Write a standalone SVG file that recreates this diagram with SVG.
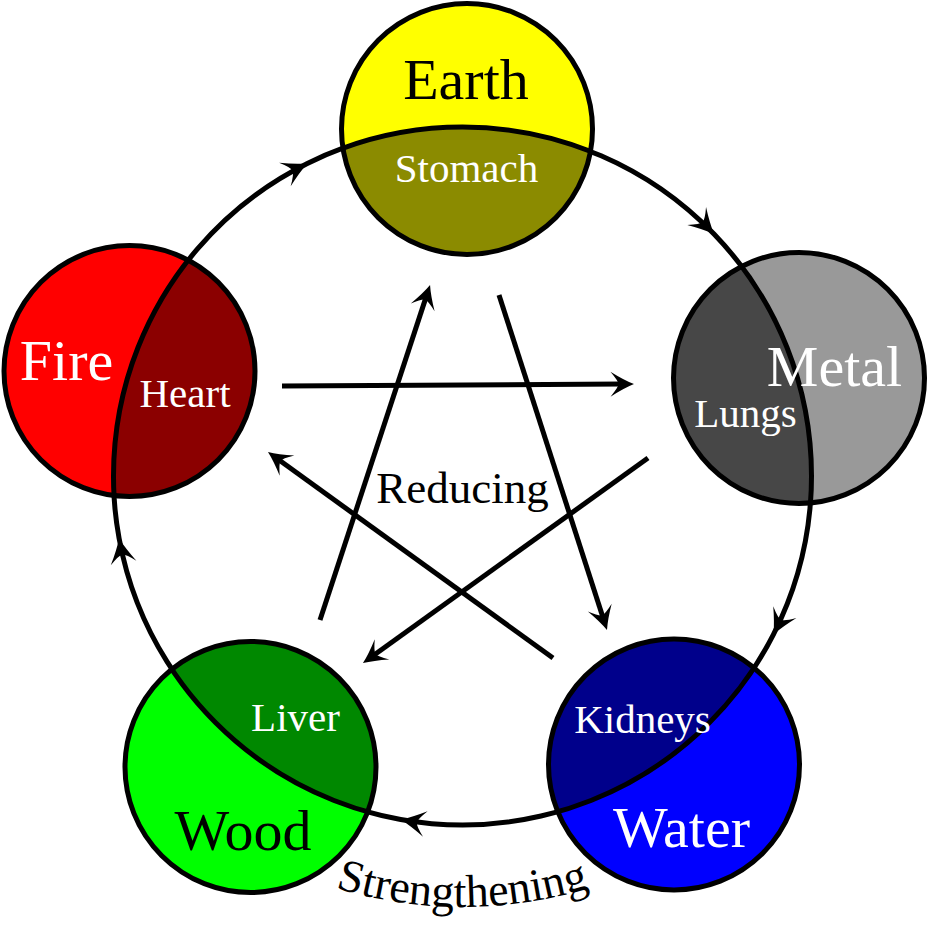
<svg xmlns="http://www.w3.org/2000/svg" xmlns:xlink="http://www.w3.org/1999/xlink" width="927" height="927" viewBox="0 0 927 927">
<style>
  .line { fill: none; stroke: #000; stroke-width: 5; }
  .outline { fill: none; stroke: #000; stroke-width: 5; }
  .ring { fill: none; stroke: #000; stroke-width: 5; }
  .big { font-family: "Liberation Serif", "Times New Roman", serif; font-size: 58px; text-anchor: middle; }
  .small { font-family: "Liberation Serif", "Times New Roman", serif; font-size: 41px; text-anchor: middle; }
  .lbl { font-family: "Liberation Serif", "Times New Roman", serif; fill: #000; }
  .w { fill: #fff; }
  .k { fill: #000; }
</style>
<defs>
  <marker id="headMid" markerUnits="userSpaceOnUse" viewBox="-28 -15 32 30" refX="0" refY="0" markerWidth="32" markerHeight="30" orient="auto" overflow="visible">
    <path d="M0,0 Q-11,-4.5 -25,-13 Q-16.5,-3.5 -16.5,0 Q-16.5,3.5 -25,13 Q-11,4.5 0,0 Z" fill="#000"/>
  </marker>
  <marker id="headEnd" markerUnits="userSpaceOnUse" viewBox="-28 -15 32 30" refX="-12" refY="0" markerWidth="32" markerHeight="30" orient="auto" overflow="visible">
    <path d="M0,0 Q-10,-4 -23.5,-12.5 Q-15.5,-3 -15.5,0 Q-15.5,3 -23.5,12.5 Q-10,4 0,0 Z" fill="#000"/>
  </marker>
  <clipPath id="bigDisc"><circle cx="462.5" cy="476" r="349"/></clipPath>
  <clipPath id="clipEarth"><circle cx="467" cy="129" r="125.5"/></clipPath>
  <clipPath id="clipFire"><circle cx="129.5" cy="371" r="125.5"/></clipPath>
  <clipPath id="clipMetal"><circle cx="799" cy="378" r="125.5"/></clipPath>
  <clipPath id="clipWood"><circle cx="250.5" cy="767" r="125.5"/></clipPath>
  <clipPath id="clipWater"><circle cx="674" cy="764.5" r="125.5"/></clipPath>
  <path id="strPath" d="M31.5,476 A431,431 0 0,0 893.5,476"/>
</defs>
<rect width="927" height="927" fill="#fff"/>

<g id="connectors">
  <path class="line" marker-mid="url(#headMid)" d="M466.8,127 A349,349 0 0,1 714,234 A349,349 0 0,1 797.6,378.6"/>
  <path class="line" marker-mid="url(#headMid)" d="M797.6,378.6 A349,349 0 0,1 773.5,634.4 A349,349 0 0,1 668.6,757.6"/>
  <path class="line" marker-mid="url(#headMid)" d="M668.6,757.6 A349,349 0 0,1 400.7,819.5 A349,349 0 0,1 257.4,758.3"/>
  <path class="line" marker-mid="url(#headMid)" d="M257.4,758.3 A349,349 0 0,1 119.1,538.4 A349,349 0 0,1 129.6,371"/>
  <path class="line" marker-mid="url(#headMid)" d="M129.6,371 A349,349 0 0,1 307.3,163.4 A349,349 0 0,1 466.8,127"/>
  <path class="line" marker-end="url(#headEnd)" d="M282,386 L622,384.1"/>
  <path class="line" marker-end="url(#headEnd)" d="M648,458 L372.7,656"/>
  <path class="line" marker-end="url(#headEnd)" d="M320,620 L426.3,296.4"/>
  <path class="line" marker-end="url(#headEnd)" d="M499,295 L603.3,618.6"/>
  <path class="line" marker-end="url(#headEnd)" d="M553,658 L277.7,459"/>
  <text class="lbl" font-size="45" text-anchor="middle" x="462.5" y="503">Reducing</text>
  <text class="lbl" font-size="46"><textPath xlink:href="#strPath" href="#strPath" startOffset="50%" text-anchor="middle">Strengthening</textPath></text>
</g>

<g id="earth">
  <circle cx="467" cy="129" r="125.5" fill="#ffff00"/>
  <circle cx="467" cy="129" r="125.5" fill="#8b8b00" clip-path="url(#bigDisc)"/>
  <circle class="ring" cx="462.5" cy="476" r="349" clip-path="url(#clipEarth)"/>
  <circle class="outline" cx="467" cy="129" r="125.5"/>
  <text class="big k" x="466" y="99">Earth</text>
  <text class="small w" x="466.5" y="182">Stomach</text>
</g>

<g id="fire">
  <circle cx="129.5" cy="371" r="125.5" fill="#ff0000"/>
  <circle cx="129.5" cy="371" r="125.5" fill="#8b0000" clip-path="url(#bigDisc)"/>
  <circle class="ring" cx="462.5" cy="476" r="349" clip-path="url(#clipFire)"/>
  <circle class="outline" cx="129.5" cy="371" r="125.5"/>
  <text class="big w" x="66.5" y="380">Fire</text>
  <text class="small w" x="185" y="407">Heart</text>
</g>

<g id="metal">
  <circle cx="799" cy="378" r="125.5" fill="#999999"/>
  <circle cx="799" cy="378" r="125.5" fill="#474747" clip-path="url(#bigDisc)"/>
  <circle class="ring" cx="462.5" cy="476" r="349" clip-path="url(#clipMetal)"/>
  <circle class="outline" cx="799" cy="378" r="125.5"/>
  <text class="big w" x="834.5" y="386">Metal</text>
  <text class="small w" x="745.5" y="427">Lungs</text>
</g>

<g id="wood">
  <circle cx="250.5" cy="767" r="125.5" fill="#00ff00"/>
  <circle cx="250.5" cy="767" r="125.5" fill="#008800" clip-path="url(#bigDisc)"/>
  <circle class="ring" cx="462.5" cy="476" r="349" clip-path="url(#clipWood)"/>
  <circle class="outline" cx="250.5" cy="767" r="125.5"/>
  <text class="small w" x="295.5" y="731">Liver</text>
  <text class="big k" x="243" y="850">Wood</text>
</g>

<g id="water">
  <circle cx="674" cy="764.5" r="125.5" fill="#0000ff"/>
  <circle cx="674" cy="764.5" r="125.5" fill="#00008b" clip-path="url(#bigDisc)"/>
  <circle class="ring" cx="462.5" cy="476" r="349" clip-path="url(#clipWater)"/>
  <circle class="outline" cx="674" cy="764.5" r="125.5"/>
  <text class="small w" x="642.5" y="733">Kidneys</text>
  <text class="big w" x="681.5" y="847">Water</text>
</g>
</svg>
